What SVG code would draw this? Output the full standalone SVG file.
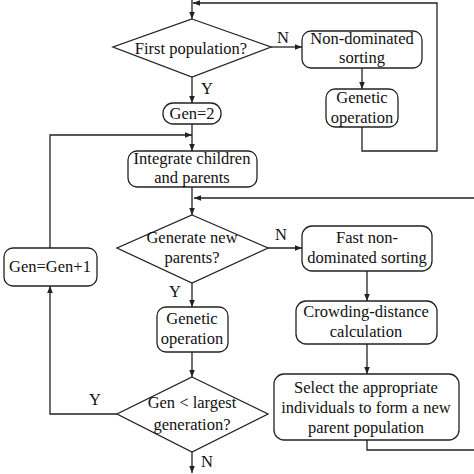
<svg xmlns="http://www.w3.org/2000/svg" width="474" height="474" viewBox="0 0 474 474">
<defs>
<marker id="ah" viewBox="0 0 10 10" refX="10" refY="5" markerWidth="7" markerHeight="7" markerUnits="userSpaceOnUse" orient="auto">
<path d="M0,1 L10,5 L0,9 Z" fill="#222"/>
</marker>
<style>
.s{fill:#fff;stroke:#222;stroke-width:1.3}
.c{fill:none;stroke:#222;stroke-width:1.3;marker-end:url(#ah)}
.n{fill:none;stroke:#222;stroke-width:1.3}
text{font-family:"Liberation Serif","Times New Roman",serif;font-size:16.5px;fill:#111;text-anchor:middle}
</style>
</defs>
<rect width="474" height="474" fill="#fff"/>
<g id="connectors">
<path class="c" d="M192,0 V19"/>
<path class="c" d="M362,127 V151 H437 V3 H193"/>
<path class="c" d="M271,47 H302"/>
<path class="c" d="M362,68 V89"/>
<path class="c" d="M192,77 V103"/>
<path class="c" d="M192,124 V151"/>
<path class="c" d="M50,248 V135 H192"/>
<path class="c" d="M192,187 V215"/>
<path class="c" d="M367,440 V450 H478 V198 H194"/>
<path class="c" d="M268,248 H302"/>
<path class="c" d="M192,283 V307"/>
<path class="c" d="M367,271 V301"/>
<path class="c" d="M192,352 V377"/>
<path class="c" d="M367,344 V374"/>
<path class="c" d="M117,414 H50 V286"/>
<path class="c" d="M192,452 V473"/>
<text x="283" y="43">N</text>
<text x="207" y="94">Y</text>
<text x="281" y="240">N</text>
<text x="175" y="297">Y</text>
<text x="95" y="405">Y</text>
<text x="207" y="467">N</text>
</g>
<g id="first-population">
<polygon class="s" points="192,19 271,47 192,77 113,47"/>
<text x="191" y="54">First population?</text>
</g>
<g id="non-dominated-sorting">
<rect class="s" x="302" y="31" width="120" height="37" rx="9"/>
<text x="362" y="44">Non-dominated</text>
<text x="362" y="63">sorting</text>
</g>
<g id="genetic-operation-1">
<rect class="s" x="326" y="89" width="72" height="38" rx="9"/>
<text x="362" y="103">Genetic</text>
<text x="362" y="123">operation</text>
</g>
<g id="gen-2">
<rect class="s" x="163" y="103" width="58" height="21" rx="10"/>
<text x="192" y="119">Gen=2</text>
</g>
<g id="integrate">
<rect class="s" x="128" y="151" width="129" height="36" rx="9"/>
<text x="192" y="164">Integrate children</text>
<text x="192" y="183">and parents</text>
</g>
<g id="generate-new-parents">
<polygon class="s" points="192,215 268,248 192,283 117,248"/>
<text x="192" y="243">Generate new</text>
<text x="192" y="263">parents?</text>
</g>
<g id="fast-non-dominated">
<rect class="s" x="302" y="226" width="130" height="45" rx="10"/>
<text x="367" y="243">Fast non-</text>
<text x="367" y="263">dominated sorting</text>
</g>
<g id="gen-increment">
<rect class="s" x="4" y="248" width="93" height="38" rx="9"/>
<text x="50" y="272">Gen=Gen+1</text>
</g>
<g id="genetic-operation-2">
<rect class="s" x="157" y="307" width="71" height="45" rx="9"/>
<text x="192" y="324">Genetic</text>
<text x="192" y="344">operation</text>
</g>
<g id="crowding-distance">
<rect class="s" x="296" y="301" width="141" height="43" rx="10"/>
<text x="366" y="317">Crowding-distance</text>
<text x="366" y="337">calculation</text>
</g>
<g id="gen-largest">
<polygon class="s" points="192,377 268,414 192,452 117,414"/>
<text x="192" y="408">Gen &lt; largest</text>
<text x="192" y="430">generation?</text>
</g>
<g id="select">
<rect class="s" x="274" y="374" width="185" height="66" rx="10"/>
<text x="366" y="393">Select the appropriate</text>
<text x="366" y="413">individuals to form a new</text>
<text x="366" y="433">parent population</text>
</g>
</svg>
